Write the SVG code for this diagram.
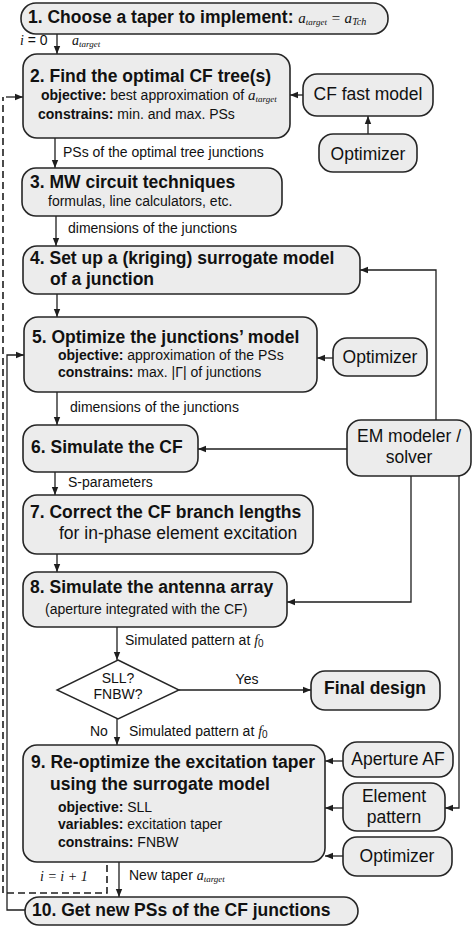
<svg xmlns="http://www.w3.org/2000/svg" width="474" height="929" viewBox="0 0 474 929">
<defs>
<marker id="ah" viewBox="0 0 10 10" refX="10" refY="5" markerWidth="9" markerHeight="8" orient="auto" markerUnits="userSpaceOnUse"><path d="M0,1 L10,5 L0,9 z" fill="#1e1e1e"/></marker>
<style>
.box{fill:#ececec;stroke:#262626;stroke-width:1.6}
.t{font-family:"Liberation Sans",Arial,sans-serif;font-weight:bold;font-size:17.5px;fill:#111}
.s{font-family:"Liberation Sans",Arial,sans-serif;font-size:14px;fill:#111}
.m{font-family:"Liberation Sans",Arial,sans-serif;font-size:17.5px;fill:#111}
.b{font-weight:bold}
.it{font-family:"Liberation Serif","Times New Roman",serif;font-style:italic}
.c{fill:none;stroke:#1e1e1e;stroke-width:1.3}
.a{marker-end:url(#ah)}
.d{stroke-dasharray:7 4;stroke-width:1.6}
</style>
</defs>
<rect width="474" height="929" fill="#ffffff"/>

<g id="connectors">
<path class="c a" d="M57,34 V54"/>
<path class="c a" d="M303,95 H290"/>
<path class="c a" d="M368,134 V116"/>
<path class="c a" d="M55,138 V168"/>
<path class="c a" d="M56,216 V246"/>
<path class="c a" d="M436,420 V270 H360"/>
<path class="c a" d="M57,294 V317"/>
<path class="c a" d="M333,358 H317"/>
<path class="c a" d="M57,392 V425"/>
<path class="c a" d="M347,449 H198"/>
<path class="c a" d="M55,472 V495"/>
<path class="c a" d="M57,554 V572"/>
<path class="c a" d="M411,476 V602 H287"/>
<path class="c a" d="M459,476 V808 H445"/>
<path class="c a" d="M117,627 V660"/>
<path class="c a" d="M179,690 H311"/>
<path class="c a" d="M117,719 V745"/>
<path class="c a" d="M343,761 H325"/>
<path class="c a" d="M343,808 H325"/>
<path class="c a" d="M343,856 H325"/>
<path class="c a" d="M119,862 V897"/>
<path class="c a" d="M25,910 H7 V355 H24"/>
<path class="c d" d="M107,865 V893 H3 V97"/>
<path class="c a" d="M6,97 H23"/>
<text class="s" x="20" y="45"><tspan class="it">i</tspan> = 0</text>
<text class="s it" x="72" y="45">a<tspan font-size="9" dy="2">target</tspan></text>
<text class="s" x="63" y="157">PSs of the optimal tree junctions</text>
<text class="s" x="68" y="233">dimensions of the junctions</text>
<text class="s" x="70" y="412">dimensions of the junctions</text>
<text class="s" x="68" y="487">S-parameters</text>
<text class="s" x="125" y="645">Simulated pattern at <tspan class="it">f</tspan><tspan font-size="10" dy="2">0</tspan></text>
<text class="s" x="247" y="684" text-anchor="middle">Yes</text>
<text class="s" x="90" y="736">No</text>
<text class="s" x="129" y="736">Simulated pattern at <tspan class="it">f</tspan><tspan font-size="10" dy="2">0</tspan></text>
<text class="s it" x="40" y="881">i = i + 1</text>
<text class="s" x="129" y="880">New taper <tspan class="it">a</tspan><tspan class="it" font-size="9" dy="2">target</tspan></text>
</g>

<g id="n1">
<rect class="box" x="21" y="3" width="367" height="31" rx="15"/>
<text class="t" x="28" y="23">1. Choose a taper to implement: <tspan class="it" font-weight="normal" font-size="15">a</tspan><tspan class="it" font-weight="normal" font-size="9" dy="2">target</tspan><tspan class="it" font-weight="normal" font-size="15" dy="-2"> = a</tspan><tspan class="it" font-weight="normal" font-size="10" dy="2">Tch</tspan></text>
</g>

<g id="n2">
<rect class="box" x="23" y="54" width="267" height="84" rx="14"/>
<text class="t" x="30" y="82">2. Find the optimal CF tree(s)</text>
<text class="s" x="41" y="100"><tspan class="b">objective:</tspan> best approximation of <tspan class="it" font-size="15">a</tspan><tspan class="it" font-size="9" dy="2">target</tspan></text>
<text class="s" x="38" y="119"><tspan class="b">constrains:</tspan> min. and max. PSs</text>
</g>

<g id="cf-fast-model">
<rect class="box" x="303" y="74" width="130" height="42" rx="14"/>
<text class="m" x="368" y="100" text-anchor="middle">CF fast model</text>
</g>

<g id="optimizer-1">
<rect class="box" x="319" y="134" width="98" height="38" rx="14"/>
<text class="m" x="368" y="160" text-anchor="middle">Optimizer</text>
</g>

<g id="n3">
<rect class="box" x="22" y="168" width="260" height="48" rx="14"/>
<text class="t" x="30" y="188">3. MW circuit techniques</text>
<text class="s" x="48" y="206">formulas, line calculators, etc.</text>
</g>

<g id="n4">
<rect class="box" x="23" y="246" width="337" height="48" rx="14"/>
<text class="t" x="30" y="264">4. Set up a (kriging) surrogate model</text>
<text class="t" x="50" y="285">of a junction</text>
</g>

<g id="n5">
<rect class="box" x="24" y="317" width="293" height="75" rx="14"/>
<text class="t" x="32" y="343">5. Optimize the junctions’ model</text>
<text class="s" x="58" y="360"><tspan class="b">objective:</tspan> approximation of the PSs</text>
<text class="s" x="58" y="377"><tspan class="b">constrains:</tspan> max. |Γ| of junctions</text>
</g>

<g id="optimizer-2">
<rect class="box" x="333" y="338" width="94" height="38" rx="14"/>
<text class="m" x="380" y="363" text-anchor="middle">Optimizer</text>
</g>

<g id="n6">
<rect class="box" x="23" y="425" width="175" height="47" rx="14"/>
<text class="t" x="31" y="453">6. Simulate the CF</text>
</g>

<g id="em-modeler">
<rect class="box" x="347" y="420" width="124" height="56" rx="14"/>
<text class="m" x="409" y="442" text-anchor="middle">EM modeler /</text>
<text class="m" x="409" y="463" text-anchor="middle">solver</text>
</g>

<g id="n7">
<rect class="box" x="23" y="495" width="290" height="59" rx="14"/>
<text class="t" x="30" y="518">7. Correct the CF branch lengths</text>
<text class="m" x="59" y="539">for in-phase element excitation</text>
</g>

<g id="n8">
<rect class="box" x="23" y="572" width="264" height="55" rx="14"/>
<text class="t" x="30" y="593">8. Simulate the antenna array</text>
<text class="s" x="45" y="614">(aperture integrated with the CF)</text>
</g>

<g id="decision">
<polygon points="118,660 179,690 118,719 57,690" fill="#ffffff" stroke="#262626" stroke-width="1.4"/>
<text class="s" x="118" y="683" text-anchor="middle" font-size="13.5">SLL?</text>
<text class="s" x="118" y="699" text-anchor="middle" font-size="13.5">FNBW?</text>
</g>

<g id="final-design">
<rect class="box" x="311" y="671" width="129" height="39" rx="14"/>
<text class="t" x="375" y="694" text-anchor="middle">Final design</text>
</g>

<g id="n9">
<rect class="box" x="23" y="745" width="302" height="117" rx="14"/>
<text class="t" x="31" y="768">9. Re-optimize the excitation taper</text>
<text class="t" x="50" y="790">using the surrogate model</text>
<text class="s" x="58" y="812"><tspan class="b">objective:</tspan> SLL</text>
<text class="s" x="58" y="829"><tspan class="b">variables:</tspan> excitation taper</text>
<text class="s" x="58" y="847"><tspan class="b">constrains:</tspan> FNBW</text>
</g>

<g id="aperture-af">
<rect class="box" x="343" y="742" width="110" height="35" rx="14"/>
<text class="m" x="398" y="765" text-anchor="middle">Aperture AF</text>
</g>

<g id="element-pattern">
<rect class="box" x="343" y="783" width="102" height="48" rx="14"/>
<text class="m" x="394" y="802" text-anchor="middle">Element</text>
<text class="m" x="394" y="823" text-anchor="middle">pattern</text>
</g>

<g id="optimizer-3">
<rect class="box" x="343" y="837" width="109" height="39" rx="14"/>
<text class="m" x="397" y="862" text-anchor="middle">Optimizer</text>
</g>

<g id="n10">
<rect class="box" x="25" y="897" width="333" height="28" rx="14"/>
<text class="t" x="32" y="916">10. Get new PSs of the CF junctions</text>
</g>
</svg>
